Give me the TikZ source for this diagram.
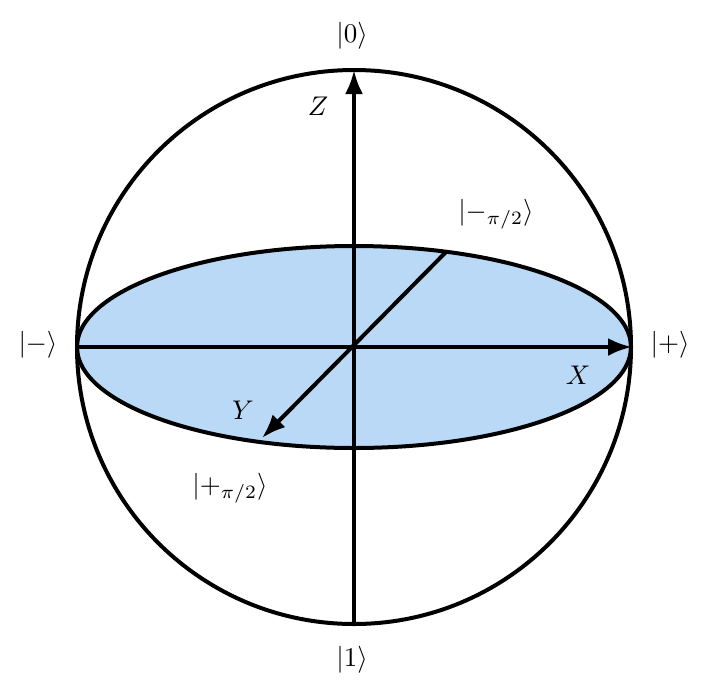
\documentclass[tikz,border=0pt]{standalone}
\usepackage{amsmath}
\usetikzlibrary{arrows.meta}
\definecolor{eqfill}{HTML}{B9D9F7}
\tikzset{ax/.style={line width=4pt,-{Latex[length=24pt,width=18pt]}},
  lab/.style={scale=2.7,transform shape}}
\begin{document}
\begin{tikzpicture}[x=1pt,y=-1pt]
\useasboundingbox (0,0) rectangle (707,694);
\coordinate (O) at (354,347);
\draw[line width=4pt,fill=eqfill] (O) ellipse [x radius=277, y radius=101];
\draw[line width=4pt] (O) circle [radius=277];
\coordinate (Zb) at (354,624);
\coordinate (Zt) at (354,70);
\coordinate (Xl) at (78,347);
\coordinate (Xr) at (632,347);
\coordinate (Ya) at (446,252);
\coordinate (Yb) at (262,438);
\draw[ax] (Zb) -- (Zt);
\draw[ax] (Xl) -- (Xr);
\draw[ax] (Ya) -- (Yb);
\node[lab] (n0) at (352,36) {$|0\rangle$};
\node[lab] (n1) at (352,660) {$|1\rangle$};
\node[lab] (nm) at (38,345) {$|-\rangle$};
\node[lab] (np) at (670,345) {$|+\rangle$};
\node[lab] (z) at (318,106) {$Z$};
\node[lab] (x) at (578,375) {$X$};
\node[lab] (y) at (243,410) {$Y$};
\node[lab] (ym) at (496,214) {$|-_{\pi/2}\rangle$};
\node[lab] (yp) at (230,488) {$|+_{\pi/2}\rangle$};
\end{tikzpicture}
\end{document}
